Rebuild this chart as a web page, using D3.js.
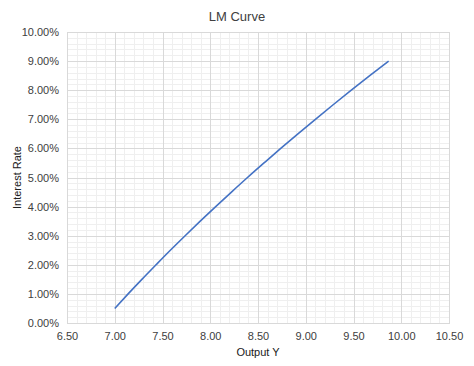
<!DOCTYPE html>
<html>
<head>
<meta charset="utf-8">
<script src="https://cdn.jsdelivr.net/npm/d3@7"></script>
<style>
html,body{margin:0;padding:0;background:#fff;}
svg{display:block;font-family:"Liberation Sans",Arial,sans-serif;}
</style>
</head>
<body>
<svg id="chart" width="474" height="366"></svg>
<script>
// Data: LM curve (output Y vs interest rate %)
const outputY = [7.000, 7.140, 7.284, 7.432, 7.582, 7.737, 7.895, 8.057, 8.222, 8.390, 8.563, 8.738, 8.918, 9.101, 9.287, 9.477, 9.670, 9.868];
const interestRate = [0.5, 1.0, 1.5, 2.0, 2.5, 3.0, 3.5, 4.0, 4.5, 5.0, 5.5, 6.0, 6.5, 7.0, 7.5, 8.0, 8.5, 9.0];
const xTicks = [6.5, 7.0, 7.5, 8.0, 8.5, 9.0, 9.5, 10.0, 10.5];
const yTicks = [0, 1, 2, 3, 4, 5, 6, 7, 8, 9, 10];
const title = "LM Curve";
const xTitle = "Output Y";
const yTitle = "Interest Rate";

const svg = d3.select("#chart");
const W = 474, H = 366;
const m = {left: 67, right: 25, top: 32, bottom: 43};
const x = d3.scaleLinear().domain([6.5, 10.5]).range([m.left, W - m.right]);
const y = d3.scaleLinear().domain([0, 10]).range([H - m.bottom, m.top]);

// minor grid
const xMinor = d3.range(65, 106).map(d => d / 10);
const yMinor = d3.range(0, 51).map(d => d / 5);
const g = svg.append("g");
g.append("g").call(d3.axisBottom(x).tickValues(xMinor).tickSize(-(y(0) - y(10))).tickFormat(""))
  .attr("transform", `translate(0,${y(0)})`)
  .call(s => { s.select(".domain").remove(); s.selectAll("line").attr("stroke", "#efefef").attr("stroke-width", 1).attr("shape-rendering", "crispEdges"); });
g.append("g").call(d3.axisLeft(y).tickValues(yMinor).tickSize(-(x(10.5) - x(6.5))).tickFormat(""))
  .attr("transform", `translate(${x(6.5)},0)`)
  .call(s => { s.select(".domain").remove(); s.selectAll("line").attr("stroke", "#efefef").attr("stroke-width", 1).attr("shape-rendering", "crispEdges"); });
// major grid
g.append("g").call(d3.axisBottom(x).tickValues(xTicks).tickSize(-(y(0) - y(10))).tickFormat(""))
  .attr("transform", `translate(0,${y(0)})`)
  .call(s => { s.select(".domain").remove(); s.selectAll("line").attr("stroke", "#d9d9d9").attr("stroke-width", 1).attr("shape-rendering", "crispEdges"); });
g.append("g").call(d3.axisLeft(y).tickValues(yTicks).tickSize(-(x(10.5) - x(6.5))).tickFormat(""))
  .attr("transform", `translate(${x(6.5)},0)`)
  .call(s => { s.select(".domain").remove(); s.selectAll("line").attr("stroke", "#d9d9d9").attr("stroke-width", 1).attr("shape-rendering", "crispEdges"); });

// plot border
svg.append("rect").attr("x", x(6.5)).attr("y", y(10)).attr("width", x(10.5) - x(6.5)).attr("height", y(0) - y(10))
  .attr("fill", "none").attr("stroke", "#d9d9d9").attr("shape-rendering", "crispEdges");

// axes labels
const xa = svg.append("g").attr("transform", `translate(0,${y(0)})`)
  .call(d3.axisBottom(x).tickValues(xTicks).tickSize(0).tickPadding(9).tickFormat(d3.format(".2f")));
xa.select(".domain").remove();
xa.selectAll("text").attr("font-size", 11).attr("fill", "#404040").attr("font-family", "Liberation Sans, Arial, sans-serif");
const ya = svg.append("g").attr("transform", `translate(${x(6.5)},0)`)
  .call(d3.axisLeft(y).tickValues(yTicks).tickSize(0).tickPadding(8).tickFormat(d => d3.format(".2f")(d) + "%"));
ya.select(".domain").remove();
ya.selectAll("text").attr("font-size", 11).attr("fill", "#404040").attr("font-family", "Liberation Sans, Arial, sans-serif");

// line
const pts = outputY.map((v, i) => [v, interestRate[i]]);
svg.append("path").datum(pts)
  .attr("fill", "none").attr("stroke", "#4472C4").attr("stroke-width", 1.6)
  .attr("d", d3.line().x(d => x(d[0])).y(d => y(d[1])).curve(d3.curveMonotoneX));

// titles
svg.append("text").attr("x", 237).attr("y", 21).attr("text-anchor", "middle")
  .attr("font-size", 13).attr("fill", "#404040").text(title);
svg.append("text").attr("x", (x(6.5) + x(10.5)) / 2).attr("y", 356).attr("text-anchor", "middle")
  .attr("font-size", 11).attr("fill", "#202020").text(xTitle);
svg.append("text").attr("transform", `translate(21,${(y(0) + y(10)) / 2}) rotate(-90)`).attr("text-anchor", "middle")
  .attr("font-size", 11).attr("fill", "#202020").text(yTitle);
</script>
</body>
</html>
